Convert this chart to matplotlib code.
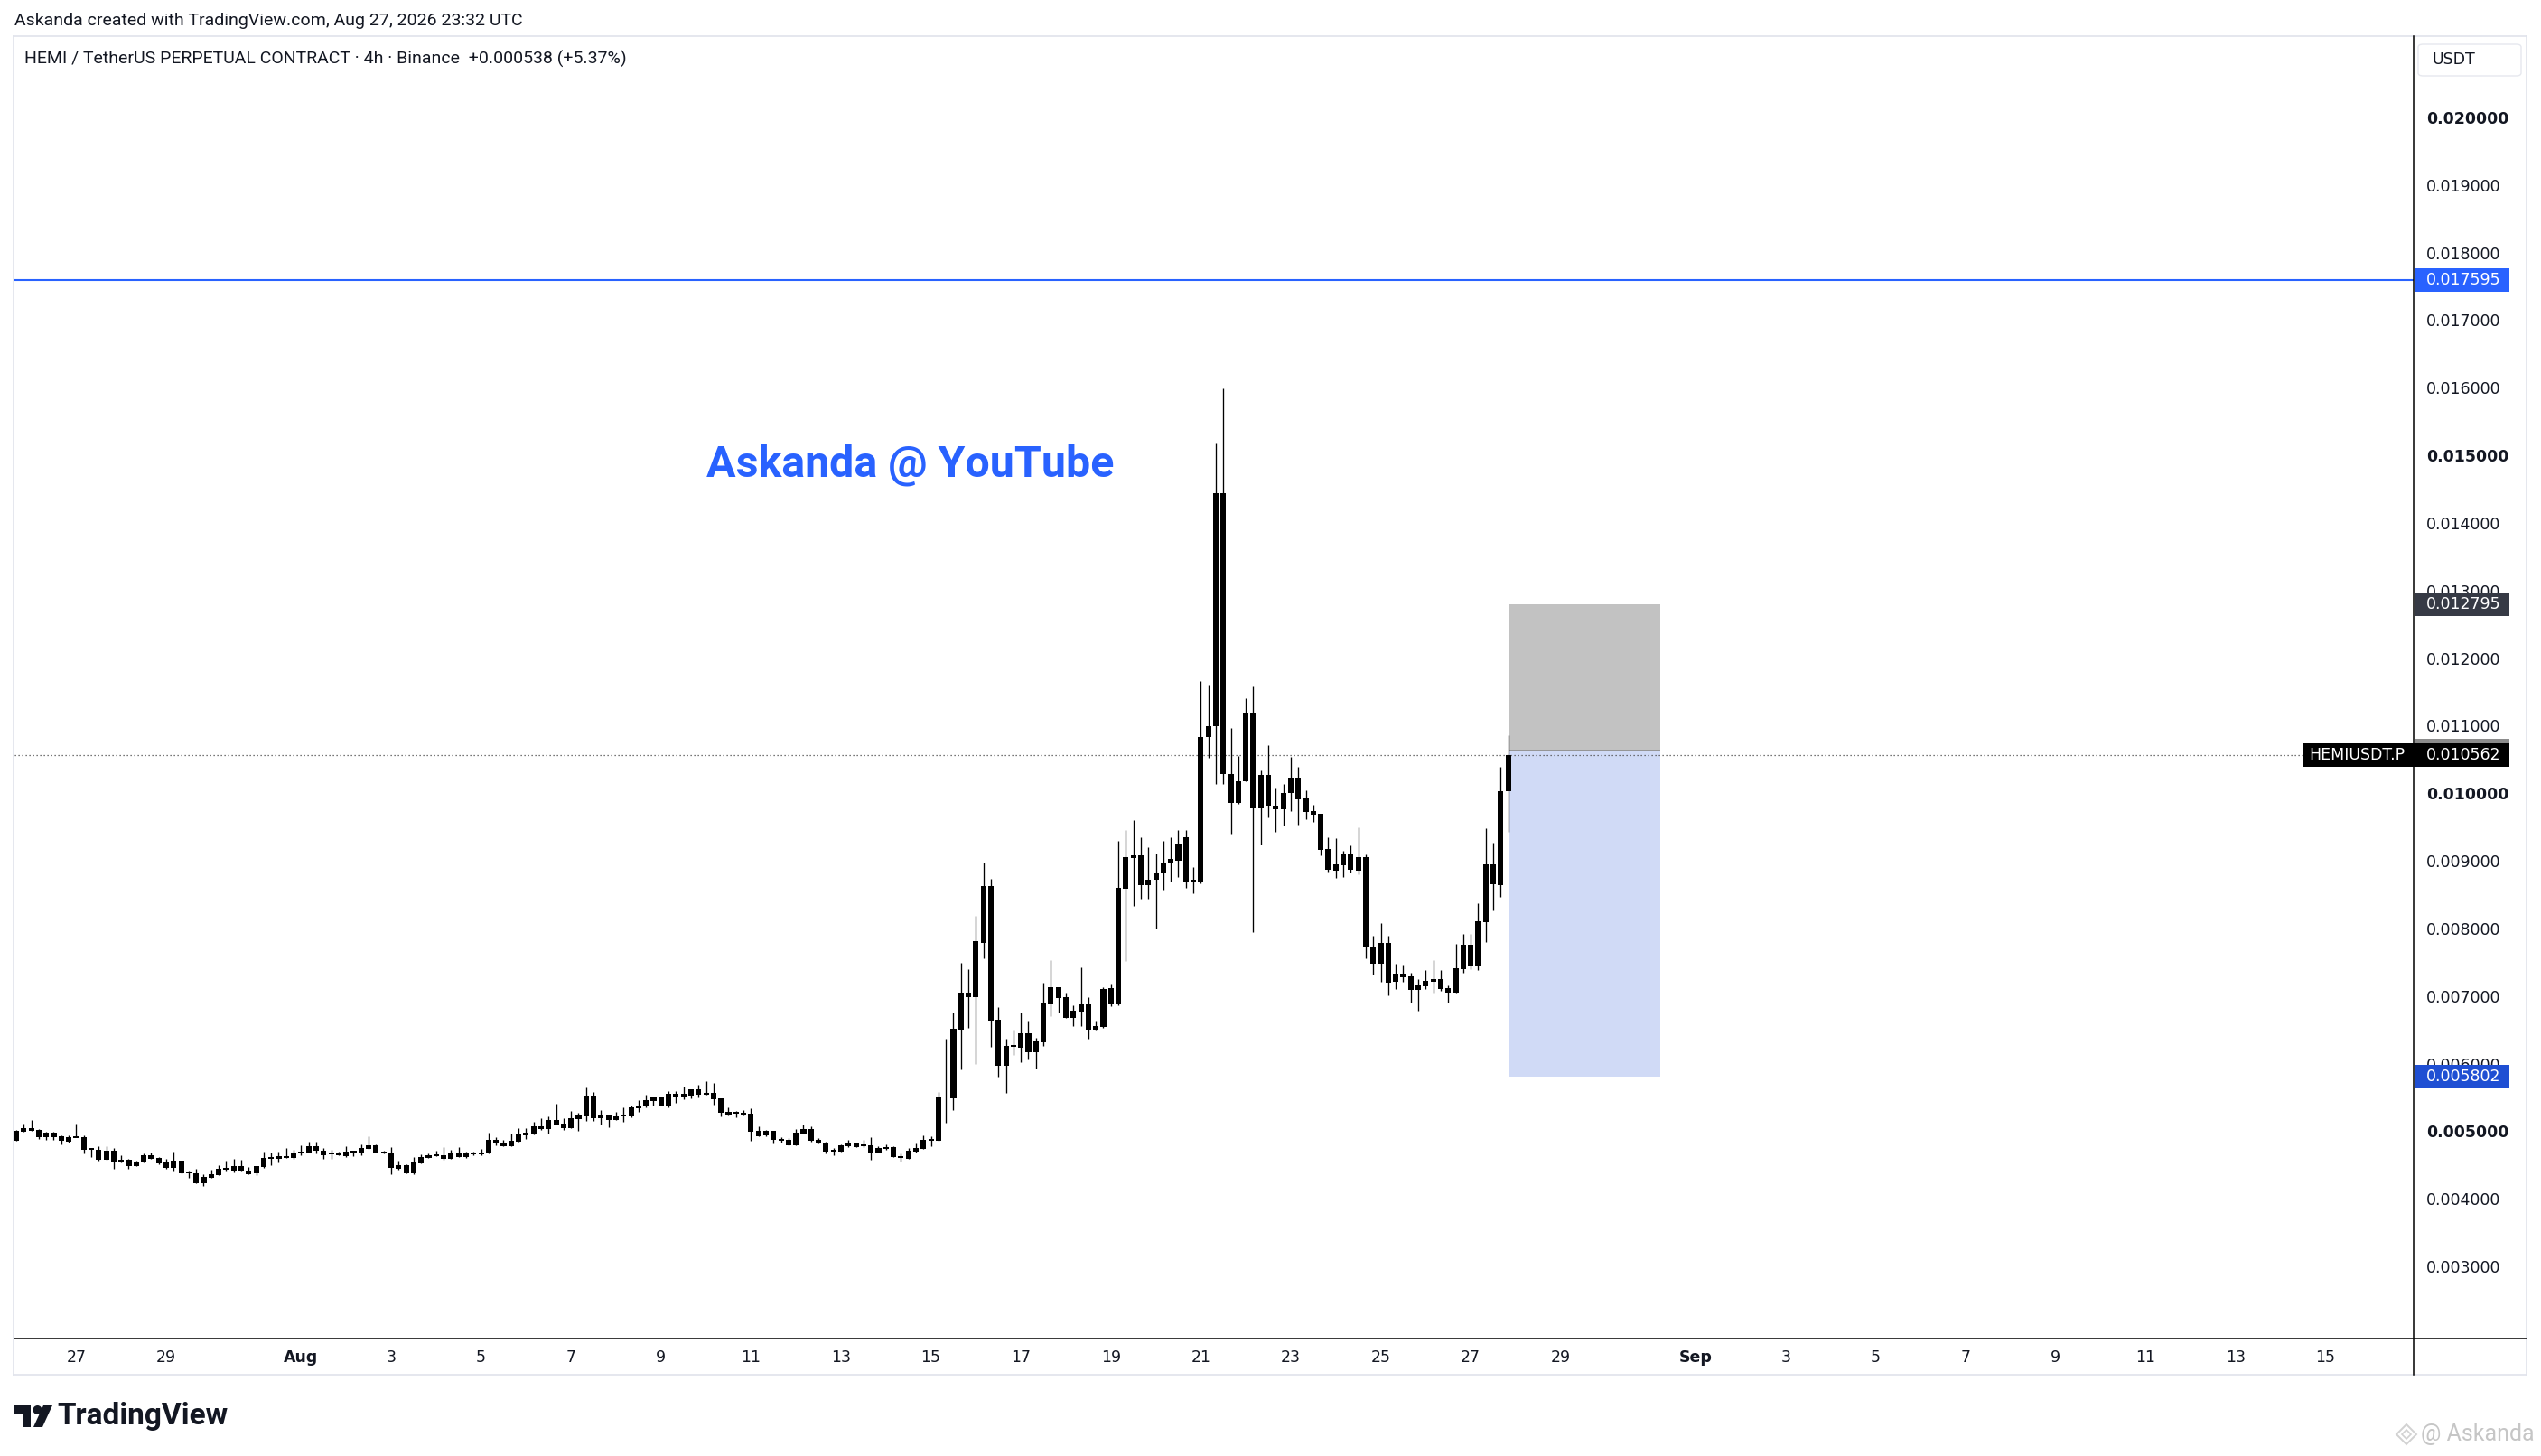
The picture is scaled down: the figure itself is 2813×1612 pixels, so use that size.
import numpy as np
import matplotlib
matplotlib.use("Agg")
import matplotlib.pyplot as plt
from matplotlib import font_manager
from matplotlib.patches import Rectangle, Polygon, Ellipse, FancyBboxPatch
from matplotlib.lines import Line2D

# ---------------------------------------------------------------- data
symbol_title = "HEMI / TetherUS PERPETUAL CONTRACT · 4h · Binance  +0.000538 (+5.37%)"
first_bar = "2026-07-25T16:00"

opens = [
    0.004863, 0.004996, 0.005045, 0.005023, 0.004916, 0.004978, 0.004925, 0.004849, 0.004909, 0.004916,
    0.004735, 0.004720, 0.004582, 0.004711, 0.004542, 0.004577, 0.004488, 0.004542, 0.004644, 0.004600,
    0.004533, 0.004462, 0.004564, 0.004395, 0.004377, 0.004234, 0.004315, 0.004355, 0.004442, 0.004417,
    0.004484, 0.004417, 0.004381, 0.004470, 0.004602, 0.004595, 0.004608, 0.004608, 0.004675, 0.004689,
    0.004778, 0.004711, 0.004664, 0.004671, 0.004631, 0.004695, 0.004675, 0.004742, 0.004787, 0.004689,
    0.004680, 0.004497, 0.004497, 0.004381, 0.004528, 0.004608, 0.004642, 0.004644, 0.004595, 0.004684,
    0.004617, 0.004668, 0.004653, 0.004671, 0.004867, 0.004831, 0.004782, 0.004849, 0.004938, 0.004965,
    0.005072, 0.005032, 0.005165, 0.005112, 0.005045, 0.005183, 0.005223, 0.005526, 0.005232, 0.005232,
    0.005170, 0.005226, 0.005219, 0.005344, 0.005370, 0.005451, 0.005500, 0.005384, 0.005553, 0.005504,
    0.005531, 0.005620, 0.005556, 0.005566, 0.005486, 0.005286, 0.005266, 0.005265, 0.005259, 0.005005,
    0.004938, 0.005005, 0.004889, 0.004871, 0.004796, 0.004969, 0.005032, 0.004871, 0.004831, 0.004705,
    0.004702, 0.004782, 0.004818, 0.004785, 0.004791, 0.004689, 0.004742, 0.004769, 0.004631, 0.004595,
    0.004702, 0.004742, 0.004869, 0.004862, 0.005510, 0.005490, 0.006501, 0.007049, 0.006987, 0.007789,
    0.008626, 0.006648, 0.005971, 0.006258, 0.006234, 0.006448, 0.006171, 0.006318, 0.006880, 0.007129,
    0.006982, 0.006675, 0.006768, 0.006875, 0.006501, 0.006541, 0.007116, 0.006875, 0.008586, 0.009040,
    0.009080, 0.008639, 0.008720, 0.008813, 0.008960, 0.009000, 0.009350, 0.008695, 0.008695, 0.010827,
    0.010990, 0.014447, 0.010283, 0.009859, 0.010174, 0.011196, 0.009777, 0.010267, 0.009821, 0.009761,
    0.010006, 0.010234, 0.009919, 0.009734, 0.009690, 0.009174, 0.008855, 0.008935, 0.009105, 0.008858,
    0.009054, 0.007731, 0.007482, 0.007785, 0.007214, 0.007330, 0.007290, 0.007094, 0.007148, 0.007214,
    0.007250, 0.007116, 0.007054, 0.007402, 0.007758, 0.007442, 0.008097, 0.008947, 0.008644, 0.010024,
]
highs = [
    0.005023, 0.005112, 0.005165, 0.005032, 0.004996, 0.004987, 0.004934, 0.004934, 0.005112, 0.004934,
    0.004735, 0.004778, 0.004778, 0.004751, 0.004644, 0.004586, 0.004560, 0.004666, 0.004680, 0.004613,
    0.004586, 0.004693, 0.004564, 0.004408, 0.004439, 0.004359, 0.004426, 0.004497, 0.004564, 0.004586,
    0.004577, 0.004466, 0.004484, 0.004693, 0.004684, 0.004693, 0.004751, 0.004720, 0.004791, 0.004840,
    0.004840, 0.004747, 0.004720, 0.004698, 0.004778, 0.004702, 0.004800, 0.004925, 0.004809, 0.004711,
    0.004764, 0.004560, 0.004511, 0.004617, 0.004653, 0.004675, 0.004707, 0.004764, 0.004720, 0.004764,
    0.004698, 0.004702, 0.004733, 0.004978, 0.004912, 0.004871, 0.004965, 0.005045, 0.005045, 0.005139,
    0.005188, 0.005219, 0.005406, 0.005192, 0.005299, 0.005272, 0.005647, 0.005575, 0.005308, 0.005232,
    0.005286, 0.005353, 0.005375, 0.005464, 0.005540, 0.005517, 0.005513, 0.005593, 0.005589, 0.005660,
    0.005620, 0.005687, 0.005740, 0.005713, 0.005486, 0.005353, 0.005299, 0.005308, 0.005339, 0.005067,
    0.005023, 0.005005, 0.004916, 0.004898, 0.005032, 0.005099, 0.005067, 0.004898, 0.004845, 0.004747,
    0.004800, 0.004871, 0.004827, 0.004867, 0.004912, 0.004778, 0.004800, 0.004778, 0.004666, 0.004747,
    0.004814, 0.004934, 0.004925, 0.005574, 0.006367, 0.006755, 0.007490, 0.007396, 0.008185, 0.008974,
    0.008733, 0.006835, 0.006367, 0.006501, 0.006755, 0.006635, 0.006381, 0.007196, 0.007530, 0.007129,
    0.007049, 0.006866, 0.007423, 0.006982, 0.006635, 0.007129, 0.007183, 0.009300, 0.009450, 0.009600,
    0.009350, 0.009200, 0.009107, 0.009300, 0.009350, 0.009450, 0.009450, 0.008907, 0.011664, 0.011609,
    0.015171, 0.015997, 0.010968, 0.010549, 0.011403, 0.011582, 0.010332, 0.010712, 0.010087, 0.010141,
    0.010533, 0.010386, 0.010049, 0.009826, 0.009690, 0.009342, 0.009332, 0.009150, 0.009230, 0.009495,
    0.009094, 0.007892, 0.008079, 0.007892, 0.007477, 0.007464, 0.007344, 0.007255, 0.007384, 0.007531,
    0.007384, 0.007161, 0.007771, 0.007918, 0.007918, 0.008373, 0.009482, 0.009268, 0.010391, 0.010859,
]
lows = [
    0.004863, 0.004987, 0.005001, 0.004889, 0.004876, 0.004876, 0.004809, 0.004836, 0.004905, 0.004675,
    0.004622, 0.004568, 0.004582, 0.004448, 0.004542, 0.004448, 0.004488, 0.004533, 0.004595, 0.004506,
    0.004448, 0.004408, 0.004372, 0.004315, 0.004234, 0.004194, 0.004315, 0.004355, 0.004399, 0.004386,
    0.004408, 0.004368, 0.004350, 0.004462, 0.004497, 0.004542, 0.004608, 0.004595, 0.004640, 0.004689,
    0.004675, 0.004595, 0.004595, 0.004640, 0.004622, 0.004631, 0.004644, 0.004742, 0.004689, 0.004666,
    0.004364, 0.004435, 0.004381, 0.004364, 0.004528, 0.004608, 0.004631, 0.004573, 0.004586, 0.004617,
    0.004608, 0.004640, 0.004644, 0.004671, 0.004796, 0.004782, 0.004782, 0.004849, 0.004889, 0.004956,
    0.005023, 0.004965, 0.005103, 0.005023, 0.005045, 0.005009, 0.005157, 0.005157, 0.005099, 0.005063,
    0.005170, 0.005143, 0.005210, 0.005290, 0.005357, 0.005375, 0.005384, 0.005357, 0.005424, 0.005477,
    0.005491, 0.005504, 0.005544, 0.005397, 0.005223, 0.005237, 0.005210, 0.005237, 0.004863, 0.004929,
    0.004929, 0.004818, 0.004836, 0.004796, 0.004796, 0.004969, 0.004849, 0.004822, 0.004666, 0.004649,
    0.004702, 0.004769, 0.004769, 0.004760, 0.004582, 0.004689, 0.004729, 0.004622, 0.004555, 0.004595,
    0.004689, 0.004742, 0.004778, 0.004862, 0.005129, 0.005316, 0.005917, 0.006532, 0.005998, 0.007561,
    0.006247, 0.005811, 0.005570, 0.006131, 0.006024, 0.006064, 0.005931, 0.006265, 0.006706, 0.006755,
    0.006675, 0.006554, 0.006554, 0.006367, 0.006501, 0.006528, 0.006849, 0.006862, 0.007517, 0.008336,
    0.008439, 0.008439, 0.007998, 0.008573, 0.008693, 0.008760, 0.008599, 0.008519, 0.008666, 0.010522,
    0.010141, 0.010141, 0.009397, 0.009842, 0.010174, 0.007939, 0.009244, 0.009641, 0.009424, 0.009516,
    0.009734, 0.009532, 0.009614, 0.009570, 0.009081, 0.008842, 0.008752, 0.008765, 0.008825, 0.008805,
    0.007562, 0.007321, 0.007214, 0.007014, 0.007107, 0.007214, 0.006907, 0.006787, 0.007107, 0.007054,
    0.007081, 0.006907, 0.007054, 0.007348, 0.007402, 0.007388, 0.007803, 0.008270, 0.008471, 0.009433,
]
closes = [
    0.005009, 0.005045, 0.005009, 0.004916, 0.004978, 0.004916, 0.004854, 0.004907, 0.004905, 0.004729,
    0.004731, 0.004577, 0.004711, 0.004542, 0.004577, 0.004488, 0.004551, 0.004640, 0.004595, 0.004528,
    0.004462, 0.004564, 0.004381, 0.004372, 0.004234, 0.004323, 0.004359, 0.004444, 0.004446, 0.004484,
    0.004408, 0.004368, 0.004484, 0.004604, 0.004606, 0.004631, 0.004631, 0.004684, 0.004693, 0.004778,
    0.004707, 0.004649, 0.004668, 0.004640, 0.004698, 0.004691, 0.004751, 0.004791, 0.004689, 0.004687,
    0.004462, 0.004444, 0.004381, 0.004533, 0.004617, 0.004644, 0.004638, 0.004586, 0.004684, 0.004617,
    0.004675, 0.004664, 0.004684, 0.004871, 0.004818, 0.004782, 0.004858, 0.004952, 0.004978, 0.005072,
    0.005032, 0.005165, 0.005103, 0.005045, 0.005192, 0.005232, 0.005526, 0.005192, 0.005197, 0.005170,
    0.005219, 0.005230, 0.005353, 0.005379, 0.005455, 0.005500, 0.005384, 0.005549, 0.005504, 0.005553,
    0.005620, 0.005544, 0.005560, 0.005477, 0.005277, 0.005250, 0.005270, 0.005261, 0.004996, 0.004929,
    0.005009, 0.004876, 0.004863, 0.004796, 0.004978, 0.005032, 0.004863, 0.004822, 0.004702, 0.004709,
    0.004791, 0.004818, 0.004769, 0.004789, 0.004689, 0.004751, 0.004769, 0.004622, 0.004600, 0.004711,
    0.004751, 0.004871, 0.004873, 0.005512, 0.005500, 0.006514, 0.007049, 0.006987, 0.007811, 0.008626,
    0.006639, 0.005971, 0.006260, 0.006254, 0.006448, 0.006171, 0.006327, 0.006889, 0.007129, 0.006973,
    0.006675, 0.006782, 0.006875, 0.006501, 0.006554, 0.007102, 0.006875, 0.008599, 0.009054, 0.009080,
    0.008639, 0.008720, 0.008827, 0.008960, 0.009027, 0.009250, 0.008679, 0.008711, 0.010837, 0.010995,
    0.014447, 0.010283, 0.009859, 0.010180, 0.011196, 0.009777, 0.010267, 0.009815, 0.009761, 0.010006,
    0.010234, 0.009908, 0.009717, 0.009685, 0.009163, 0.008864, 0.008945, 0.009105, 0.008869, 0.009054,
    0.007722, 0.007482, 0.007785, 0.007201, 0.007330, 0.007281, 0.007094, 0.007161, 0.007223, 0.007250,
    0.007107, 0.007054, 0.007410, 0.007758, 0.007442, 0.008106, 0.008947, 0.008658, 0.010024, 0.010562,
]

# horizontal level and position tool (short setup)
level_price = 0.017595
stop_price = 0.012795
entry_price = 0.010630
target_price = 0.005802
last_price = 0.010562
position_start = "2026-08-27T20:00"
position_bars = 20.3

# axis labels
price_ticks = [0.003, 0.004, 0.005, 0.006, 0.007, 0.008, 0.009, 0.010, 0.011,
               0.012, 0.013, 0.014, 0.015, 0.016, 0.017, 0.018, 0.019, 0.020]
date_ticks = ["2026-07-27", "2026-07-29", "2026-08-01", "2026-08-03", "2026-08-05",
              "2026-08-07", "2026-08-09", "2026-08-11", "2026-08-13", "2026-08-15",
              "2026-08-17", "2026-08-19", "2026-08-21", "2026-08-23", "2026-08-25",
              "2026-08-27", "2026-08-29", "2026-09-01", "2026-09-03", "2026-09-05",
              "2026-09-07", "2026-09-09", "2026-09-11", "2026-09-13", "2026-09-15"]
date_labels = ["27", "29", "Aug", "3", "5", "7", "9", "11", "13", "15", "17", "19", "21",
               "23", "25", "27", "29", "Sep", "3", "5", "7", "9", "11", "13", "15"]

# ---------------------------------------------------------------- layout
W, H, DPI = 2813, 1612, 100
PANE_L, PANE_R, PANE_T, PANE_B = 16, 2672, 40, 1482   # price pane in pixels
OUTER_R, OUTER_B = 2797, 1522
X_MIN, X_MAX = -0.24, 319.76
Y_MIN, Y_MAX = 0.001931, 0.021203

installed = {f.name for f in font_manager.fontManager.ttflist}
NARROW = "Liberation Sans Narrow" if "Liberation Sans Narrow" in installed else "Roboto"
NARROW_SIZE = 15.5 if NARROW == "Liberation Sans Narrow" else 14.0
UI = "DejaVu Sans"
TEXT = "#131722"

fig = plt.figure(figsize=(W / DPI, H / DPI), dpi=DPI)
fig.patch.set_facecolor("white")


def fx(px):
    return px / W


def fy(py):
    return 1 - py / H


ax = fig.add_axes([fx(PANE_L), fy(PANE_B), fx(PANE_R - PANE_L), (PANE_B - PANE_T) / H])
ax.set_xlim(X_MIN, X_MAX)
ax.set_ylim(Y_MIN, Y_MAX)
ax.set_facecolor("white")
for s in ax.spines.values():
    s.set_visible(False)

data_per_px = (Y_MAX - Y_MIN) / (PANE_B - PANE_T)


def ax_x(px):
    return (px - PANE_L) / (PANE_R - PANE_L)


# ---------------------------------------------------------------- candles
o = np.array(opens)
h = np.array(highs)
l = np.array(lows)
c = np.array(closes)
t0 = np.datetime64(first_bar)
bar_step = np.timedelta64(4, "h")
xi = np.arange(len(c))


def to_index(stamp):
    return (np.datetime64(stamp) - t0) / bar_step


lo_body = np.minimum(o, c)
hi_body = np.maximum(o, c)
min_h = 1.8 * data_per_px
body_h = np.maximum(hi_body - lo_body, min_h)
body_bottom = (lo_body + hi_body) / 2 - body_h / 2

ax.vlines(xi, l, h, color="#000000", lw=0.95, zorder=5)
ax.bar(xi, body_h, bottom=body_bottom, width=0.74, color="#000000", lw=0, zorder=6)

# ---------------------------------------------------------------- drawings
ax.axhline(level_price, color="#2962FF", lw=1.5, zorder=3)
ax.axhline(last_price, color="#4a4a4a", lw=0.9, ls=(0, (1, 2.2)), zorder=3)

px0 = to_index(position_start)
ax.add_patch(Rectangle((px0, entry_price), position_bars, stop_price - entry_price,
                       facecolor="#C2C2C2", lw=0, zorder=2))
ax.add_patch(Rectangle((px0, target_price), position_bars, entry_price - target_price,
                       facecolor="#D0DAF6", lw=0, zorder=2))
ax.hlines(entry_price, px0, px0 + position_bars, color="#8C8C8C", lw=1.2, zorder=2.5)

ax.text(119.2, 0.014855, "Askanda @ YouTube", color="#2962FF", fontsize=34.8,
        fontweight="bold", family="Roboto", ha="center", va="center", zorder=7)

# ---------------------------------------------------------------- axes
ax.yaxis.tick_right()
ax.set_yticks(price_ticks)
ax.set_yticklabels([f"{v:.6f}" for v in price_ticks])
ax.tick_params(axis="y", length=0, pad=(2686 - PANE_R) / 1.389, labelsize=12.5,
               labelcolor=TEXT)
for lab, v in zip(ax.get_yticklabels(), price_ticks):
    lab.set_family(UI)
    if round(v * 1000) % 5 == 0:
        lab.set_fontweight("bold")

ax.set_xticks([to_index(d + "T00:00") for d in date_ticks])
ax.set_xticklabels(date_labels)
ax.tick_params(axis="x", length=0, pad=9, labelsize=12.5, labelcolor=TEXT)
for lab in ax.get_xticklabels():
    lab.set_family(UI)
    if lab.get_text() in ("Aug", "Sep"):
        lab.set_fontweight("bold")


def price_tag(price, text, face, x0=PANE_R + 1, x1=2778, tx=2686, z=8):
    hh = 13 * data_per_px
    ax.add_patch(Rectangle((ax_x(x0), price - hh), ax_x(x1) - ax_x(x0), 2 * hh,
                           transform=ax.get_yaxis_transform(), facecolor=face,
                           lw=0, clip_on=False, zorder=z))
    if text:
        ax.text(ax_x(tx), price, text, transform=ax.get_yaxis_transform(),
                color="white", fontsize=12.5, family=UI, ha="left", va="center",
                clip_on=False, zorder=z + 0.5)


price_tag(level_price, f"{level_price:.6f}", "#2962FF")
price_tag(stop_price, f"{stop_price:.6f}", "#363A45")
price_tag(entry_price, "", "#8C8C8C", z=7.5)
price_tag(last_price, f"{last_price:.6f}", "#000000")
price_tag(target_price, f"{target_price:.6f}", "#1F4FD3")
price_tag(last_price, "HEMIUSDT.P", "#000000", x0=2549, x1=PANE_R + 1, tx=2556)

# ---------------------------------------------------------------- frame


def fig_line(x0, y0, x1, y1, color, lw):
    fig.add_artist(Line2D([fx(x0), fx(x1)], [fy(y0), fy(y1)], transform=fig.transFigure,
                          color=color, lw=lw, zorder=10))


fig_line(15, PANE_T, OUTER_R, PANE_T, "#E0E3EB", 1.2)
fig_line(15, PANE_T, 15, OUTER_B, "#E0E3EB", 1.2)
fig_line(OUTER_R, PANE_T, OUTER_R, OUTER_B, "#E0E3EB", 1.2)
fig_line(15, OUTER_B, OUTER_R, OUTER_B, "#E0E3EB", 1.2)
fig_line(PANE_R, PANE_T, PANE_R, OUTER_B, "#000000", 1.1)
fig_line(PANE_L, PANE_B, OUTER_R, PANE_B, "#000000", 1.1)

# currency box on the price scale
fig.add_artist(FancyBboxPatch((fx(2677), fy(84)), fx(114), 35 / H,
                              boxstyle="round,pad=0,rounding_size=0.002",
                              transform=fig.transFigure, facecolor="white",
                              edgecolor="#E6E8EE", lw=1.0, zorder=10))
fig.text(fx(2692), fy(66), "USDT", fontsize=12.5, family=UI, color=TEXT,
         ha="left", va="center", zorder=11)

# ---------------------------------------------------------------- headers
fig.text(fx(16), fy(23), "Askanda created with TradingView.com, Aug 27, 2026 23:32 UTC",
         fontsize=NARROW_SIZE, family=NARROW, color=TEXT, ha="left", va="center")
fig.text(fx(27), fy(65), symbol_title, fontsize=NARROW_SIZE, family=NARROW, color=TEXT,
         ha="left", va="center")

# TradingView wordmark
fig.add_artist(Polygon([(fx(16), fy(1556)), (fx(34), fy(1556)), (fx(34), fy(1580)),
                        (fx(25), fy(1580)), (fx(25), fy(1565)), (fx(16), fy(1565))],
                       closed=True, transform=fig.transFigure, facecolor="#131722", lw=0))
fig.add_artist(Ellipse((fx(41.5), fy(1561)), 10 / W, 10 / H, transform=fig.transFigure,
                       facecolor="#131722", lw=0))
fig.add_artist(Polygon([(fx(37), fy(1580)), (fx(47), fy(1580)), (fx(58), fy(1556)),
                        (fx(48), fy(1556))], closed=True, transform=fig.transFigure,
                       facecolor="#131722", lw=0))
fig.text(fx(63), fy(1568), "TradingView", fontsize=24, family="Roboto", fontweight="bold",
         color="#131722", ha="left", va="center")

# watermark
wx, wy = 2664, 1588
fig.add_artist(Polygon([(fx(wx - 11), fy(wy)), (fx(wx), fy(wy - 11)), (fx(wx + 11), fy(wy)),
                        (fx(wx), fy(wy + 11))], closed=True, transform=fig.transFigure,
                       facecolor="none", edgecolor="#D2D2D2", lw=1.4))
fig.add_artist(Polygon([(fx(wx - 5), fy(wy)), (fx(wx), fy(wy - 5)), (fx(wx + 5), fy(wy)),
                        (fx(wx), fy(wy + 5))], closed=True, transform=fig.transFigure,
                       facecolor="none", edgecolor="#D2D2D2", lw=1.2))
fig.text(fx(2680), fy(wy), "@ Askanda", fontsize=18, family="Roboto", color="#C6C6C6",
         ha="left", va="center")

fig.savefig("out.png", dpi=DPI, facecolor="white")
